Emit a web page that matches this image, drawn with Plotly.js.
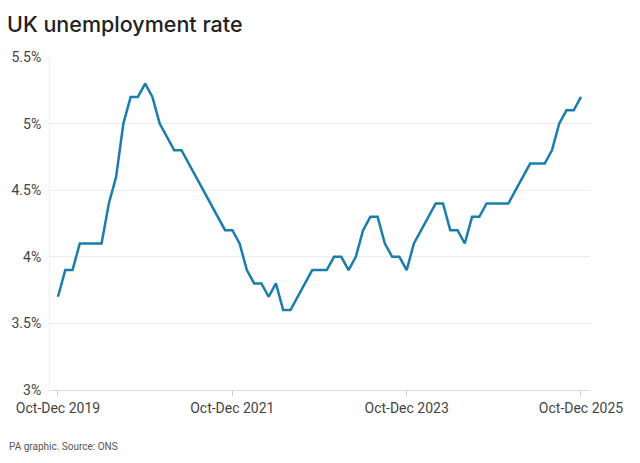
<!DOCTYPE html>
<html>
<head>
<meta charset="utf-8">
<script src="https://cdn.plot.ly/plotly-3.0.1.min.js"></script>
<style>html,body{margin:0;padding:0;background:#fff;}#chart{width:640px;height:463px;}</style>
</head>
<body>
<div id="chart"></div>
<script>
// Rolling three-month periods, Oct-Dec 2019 to Oct-Dec 2025
var monthNames = ["Jan","Feb","Mar","Apr","May","Jun","Jul","Aug","Sep","Oct","Nov","Dec"];
var periods = [];
for (var i = 0; i < 73; i++) {
  var m0 = (9 + i) % 12;            // start month index
  var m2 = (11 + i) % 12;           // end month index
  var endYear = 2019 + Math.floor((11 + i) / 12);
  periods.push(monthNames[m0] + "-" + monthNames[m2] + " " + endYear);
}

// Unemployment rate (%)
var rate = [
  3.7, 3.9, 3.9, 4.1, 4.1, 4.1, 4.1, 4.4, 4.6, 5.0,
  5.2, 5.2, 5.3, 5.2, 5.0, 4.9, 4.8, 4.8, 4.7, 4.6,
  4.5, 4.4, 4.3, 4.2, 4.2, 4.1, 3.9, 3.8, 3.8, 3.7,
  3.8, 3.6, 3.6, 3.7, 3.8, 3.9, 3.9, 3.9, 4.0, 4.0,
  3.9, 4.0, 4.2, 4.3, 4.3, 4.1, 4.0, 4.0, 3.9, 4.1,
  4.2, 4.3, 4.4, 4.4, 4.2, 4.2, 4.1, 4.3, 4.3, 4.4,
  4.4, 4.4, 4.4, 4.5, 4.6, 4.7, 4.7, 4.7, 4.8, 5.0,
  5.1, 5.1, 5.2
];

var xTickVals = ["Oct-Dec 2019", "Oct-Dec 2021", "Oct-Dec 2023", "Oct-Dec 2025"];
var yTickVals = [3, 3.5, 4, 4.5, 5, 5.5];
var yTickText = ["3%", "3.5%", "4%", "4.5%", "5%", "5.5%"];

var titleFont = "Inter, 'Noto Sans', sans-serif";
var font = "Roboto, 'Noto Sans', sans-serif";

Plotly.newPlot("chart", [{
  type: "scatter",
  mode: "lines",
  x: periods,
  y: rate,
  line: {color: "#1a7dab", width: 2.5},
  hoverinfo: "x+y"
}], {
  width: 640, height: 463,
  margin: {l: 50, r: 50, t: 57, b: 73},
  paper_bgcolor: "#fff",
  plot_bgcolor: "#fff",
  font: {family: font, color: "#444"},
  showlegend: false,
  title: {
    text: "UK unemployment rate",
    font: {family: titleFont, size: 21.5, color: "#222", weight: 500},
    xref: "container", x: 7/640, xanchor: "left",
    yref: "container", y: 1 - 24/463, yanchor: "middle"
  },
  xaxis: {
    type: "category",
    range: [-1.1, 73.24],
    tickmode: "array",
    tickvals: xTickVals,
    ticktext: xTickVals,
    ticks: "outside", ticklen: 5, tickcolor: "#ccc", tickwidth: 1,
    showgrid: false,
    showline: true, linecolor: "#ddd", linewidth: 1,
    tickfont: {family: font, size: 14, color: "#444"},
    fixedrange: true
  },
  yaxis: {
    range: [3, 5.5],
    tickmode: "array",
    tickvals: yTickVals,
    ticktext: yTickText,
    showgrid: true, gridcolor: "#ececec", gridwidth: 1,
    zeroline: false,
    showline: true, linecolor: "#f0f0f0", linewidth: 1,
    ticks: "", ticklabelstandoff: 5,
    tickfont: {family: font, size: 14, color: "#444"},
    fixedrange: true
  },
  annotations: [{
    text: "PA graphic. Source: ONS",
    xref: "paper", yref: "paper",
    x: (7 - 50) / 540, y: (390 - 446) / 333,
    xanchor: "left", yanchor: "middle",
    showarrow: false,
    font: {family: font, size: 10, color: "#555"}
  }]
}, {displayModeBar: false, staticPlot: true});
</script>
</body>
</html>
